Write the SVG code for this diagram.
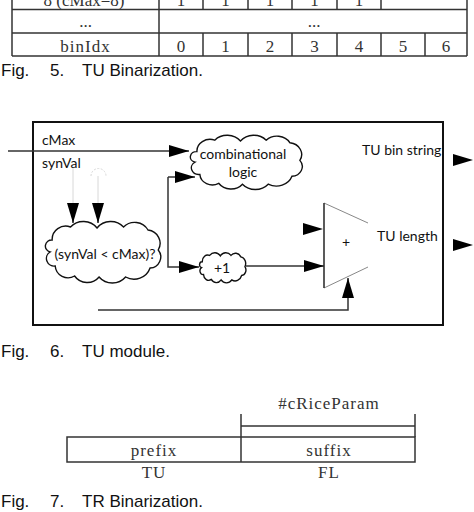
<svg xmlns="http://www.w3.org/2000/svg" xmlns:xlink="http://www.w3.org/1999/xlink" width="474" height="512" viewBox="0 0 474 512">
<style>
  .serif { font-family: "Liberation Serif", "Times New Roman", serif; font-size: 17px; fill: #333; }
  .cap { font-family: "Liberation Sans", Arial, sans-serif; font-size: 17px; fill: #111; }
  .lbl { font-family: Lato, "Open Sans", sans-serif; font-size: 14px; fill: #111; }
  .mid { text-anchor: middle; }
  .tbl { stroke: #333; stroke-width: 1.5; fill: none; }
  .conn { stroke: #333; stroke-width: 1.5; fill: none; }
  .faint { stroke: #d8d8d8; stroke-width: 1; fill: none; }
  .cloud { fill: #fff; stroke: #111; stroke-width: 1.4; }
</style>
<defs>
  <marker id="arr" markerUnits="userSpaceOnUse" markerWidth="20" markerHeight="12" refX="20" refY="6" orient="auto">
    <path d="M0,0 L20,6 L0,12 Z" fill="#000"/>
  </marker>
  <path id="ah" d="M0,0 L-20,-6 L-20,6 Z" fill="#000"/>
  <path id="cloudShape" vector-effect="non-scaling-stroke" d="M8,20 A13.3,13.3 0 0 1 26,7 A17.1,17.1 0 0 1 52,8 A17.1,17.1 0 0 1 78,7 A15.2,15.2 0 0 1 102,10 A13.4,13.4 0 0 1 112,30 A11.1,11.1 0 0 1 104,48 A16.7,16.7 0 0 1 80,57 A17.1,17.1 0 0 1 54,57 A15,15 0 0 1 30,56 A12.6,12.6 0 0 1 11,46 A7.6,7.6 0 0 1 6,32 A6.1,6.1 0 0 1 8,20 Z"/>
</defs>

<!-- Fig. 5 table -->
<g id="fig5-table">
  <line class="tbl" x1="12" y1="0" x2="12" y2="56"/>
  <line class="tbl" x1="467" y1="0" x2="467" y2="56"/>
  <line class="tbl" x1="159" y1="0" x2="159" y2="56"/>
  <line class="tbl" x1="12" y1="9.5" x2="467" y2="9.5"/>
  <line class="tbl" x1="12" y1="33" x2="467" y2="33"/>
  <line class="tbl" x1="12" y1="56" x2="467" y2="56"/>
  <g class="tbl">
    <line x1="203" y1="0" x2="203" y2="9.5"/>
    <line x1="248" y1="0" x2="248" y2="9.5"/>
    <line x1="292" y1="0" x2="292" y2="9.5"/>
    <line x1="337" y1="0" x2="337" y2="9.5"/>
    <line x1="381" y1="0" x2="381" y2="9.5"/>
    <line x1="203" y1="33" x2="203" y2="56"/>
    <line x1="248" y1="33" x2="248" y2="56"/>
    <line x1="292" y1="33" x2="292" y2="56"/>
    <line x1="337" y1="33" x2="337" y2="56"/>
    <line x1="381" y1="33" x2="381" y2="56"/>
    <line x1="425" y1="33" x2="425" y2="56"/>
  </g>
  <text class="serif mid" x="84" y="6">8 (cMax=8)</text>
  <text class="serif mid" x="181" y="6">1</text>
  <text class="serif mid" x="225.5" y="6">1</text>
  <text class="serif mid" x="270" y="6">1</text>
  <text class="serif mid" x="314.5" y="6">1</text>
  <text class="serif mid" x="359" y="6">1</text>
  <text class="serif mid" x="85.5" y="27">...</text>
  <text class="serif mid" x="314" y="27">...</text>
  <text class="serif mid" x="85.5" y="52" letter-spacing="1">binIdx</text>
  <text class="serif mid" x="181" y="52">0</text>
  <text class="serif mid" x="225.5" y="52">1</text>
  <text class="serif mid" x="270" y="52">2</text>
  <text class="serif mid" x="314.5" y="52">3</text>
  <text class="serif mid" x="359" y="52">4</text>
  <text class="serif mid" x="403" y="52">5</text>
  <text class="serif mid" x="446" y="52">6</text>
</g>
<text class="cap" x="1" y="76">Fig.</text>
<text class="cap" x="50" y="76">5.</text>
<text class="cap" x="82" y="76">TU Binarization.</text>

<!-- Fig. 6 module -->
<g id="module-box">
  <rect x="33" y="122" width="410" height="203" fill="none" stroke="#111" stroke-width="2"/>
</g>
<g id="labels">
  <text class="lbl" x="42" y="145">cMax</text>
  <text class="lbl" x="42" y="168">synVal</text>
  <text class="lbl" x="362" y="155">TU bin string</text>
  <text class="lbl" x="377" y="241">TU length</text>
</g>
<g id="cloud-compare">
  <use xlink:href="#cloudShape" class="cloud" transform="translate(44,220) scale(1.02,1)"/>
  <text class="lbl mid" x="105" y="259">(synVal &lt; cMax)?</text>
</g>
<g id="cloud-logic">
  <use xlink:href="#cloudShape" class="cloud" transform="translate(189,134) scale(0.99,0.88)"/>
  <text class="lbl mid" x="243" y="159">combinational</text>
  <text class="lbl mid" x="243" y="177">logic</text>
</g>
<g id="cloud-plus1">
  <use xlink:href="#cloudShape" class="cloud" transform="translate(199,252) scale(0.41,0.49)"/>
  <text class="lbl mid" x="222" y="273">+1</text>
</g>
<g id="adder">
  <polyline points="368,223 324,203 324,288 368,267" fill="none" stroke="#888" stroke-width="1"/>
  <line x1="324" y1="203" x2="324" y2="288" stroke="#222" stroke-width="1.3"/>
  <text class="lbl mid" x="346" y="247" font-size="12">+</text>
</g>
<g id="connectors">
  <path class="faint" d="M73,168 L73,207"/>
  <path class="faint" d="M98,176 L98,207"/>
  <path class="faint" d="M91,176 A7.5,7.5 0 0 1 106,176" stroke-dasharray="2,1.5"/>
  <line class="conn" x1="73" y1="206" x2="73" y2="223" marker-end="url(#arr)"/>
  <line class="conn" x1="98" y1="206" x2="98" y2="223" marker-end="url(#arr)"/>
  <line class="conn" x1="8" y1="151" x2="189" y2="151" marker-end="url(#arr)"/>
  <path class="conn" d="M168,177 L168,267 L199,267" marker-end="url(#arr)"/>
  <path class="conn" d="M168,177 L195,177" marker-end="url(#arr)"/>
  <line class="conn" x1="246" y1="266" x2="324" y2="266" marker-end="url(#arr)"/>
  <use xlink:href="#ah" transform="translate(323,229)"/>
  <path class="conn" d="M98,310 L348,310 L348,278" marker-end="url(#arr)"/>
  <use xlink:href="#ah" transform="translate(473,160)"/>
  <use xlink:href="#ah" transform="translate(473,245)"/>
</g>
<text class="cap" x="1" y="357">Fig.</text>
<text class="cap" x="50" y="357">6.</text>
<text class="cap" x="82" y="357">TU module.</text>

<!-- Fig. 7 -->
<g id="fig7-table">
  <rect class="tbl" x="67" y="437" width="348" height="25"/>
  <line class="tbl" x1="241" y1="414" x2="241" y2="462"/>
  <line class="tbl" x1="415" y1="414" x2="415" y2="437"/>
  <line class="tbl" x1="241" y1="426" x2="415" y2="426"/>
  <text class="serif mid" x="329" y="409" letter-spacing="1">#cRiceParam</text>
  <text class="serif mid" x="154" y="456" letter-spacing="1">prefix</text>
  <text class="serif mid" x="329" y="456" letter-spacing="1">suffix</text>
  <text class="serif mid" x="154" y="478" letter-spacing="1">TU</text>
  <text class="serif mid" x="329" y="478" letter-spacing="1">FL</text>
</g>
<text class="cap" x="1" y="507">Fig.</text>
<text class="cap" x="50" y="507">7.</text>
<text class="cap" x="82" y="507">TR Binarization.</text>
</svg>
